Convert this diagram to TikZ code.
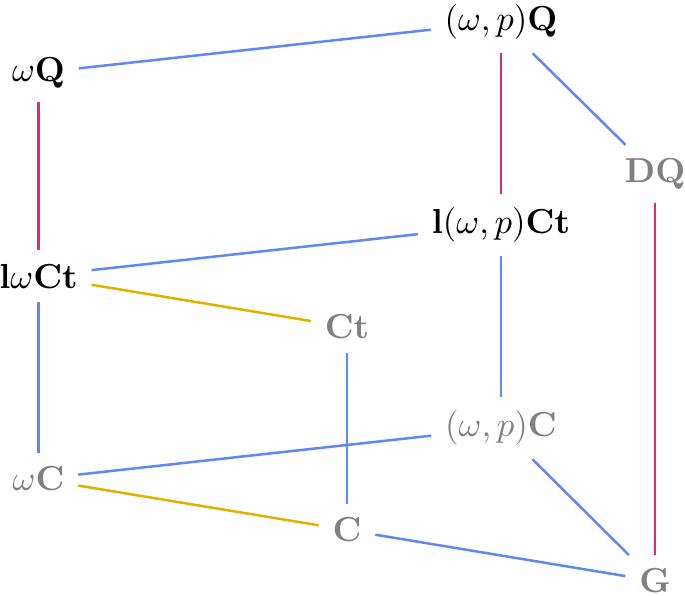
\documentclass[tikz,border=0pt]{standalone}
\definecolor{eblue}{RGB}{95,135,250}
\definecolor{emag}{RGB}{222,40,120}
\definecolor{eyel}{RGB}{228,176,0}
\definecolor{lgray}{RGB}{128,128,128}
\begin{document}
\begin{tikzpicture}[x=0.288pt,y=-0.288pt,
  lbl/.style={inner sep=4pt, outer sep=0pt},
  dim/.style={lbl, text=lgray},
  eb/.style={draw=eblue, line width=0.72pt},
  em/.style={draw=emag, line width=0.72pt},
  ey/.style={draw=eyel, line width=0.72pt}]
\useasboundingbox (0,0) rectangle (685,596);
\node[lbl] (pQ) at (501,22) {$(\omega,p)\mathbf{Q}$};
\node[lbl] (wQ) at (38.5,72.8) {$\omega\mathbf{Q}$};
\node[dim] (DQ) at (655,174) {$\mathbf{DQ}$};
\node[lbl] (lpCt) at (501,225) {$\mathbf{l}(\omega,p)\mathbf{Ct}$};
\node[lbl] (lwCt) at (38.5,276) {$\mathbf{l}\omega\mathbf{Ct}$};
\node[dim] (Ct) at (347,327) {$\mathbf{Ct}$};
\node[dim] (pC) at (501,428) {$(\omega,p)\mathbf{C}$};
\node[dim] (wC) at (38.5,479) {$\omega\mathbf{C}$};
\node[dim] (C) at (347,530) {$\mathbf{C}$};
\node[dim] (G) at (655,581) {$\mathbf{G}$};
\draw[eb] (wQ) -- (pQ);
\draw[eb] (pQ) -- (DQ);
\draw[eb] (lwCt) -- (lpCt);
\draw[eb] (lwCt) -- (wC);
\draw[eb] (lpCt) -- (pC);
\draw[eb] (Ct) -- (C);
\draw[eb] (wC) -- (pC);
\draw[eb] (C) -- (G);
\draw[eb] (pC) -- (G);
\draw[em] (wQ) -- (lwCt);
\draw[em] (pQ) -- (lpCt);
\draw[em] (DQ) -- (G);
\draw[ey] (lwCt) -- (Ct);
\draw[ey] (wC) -- (C);
\end{tikzpicture}
\end{document}
